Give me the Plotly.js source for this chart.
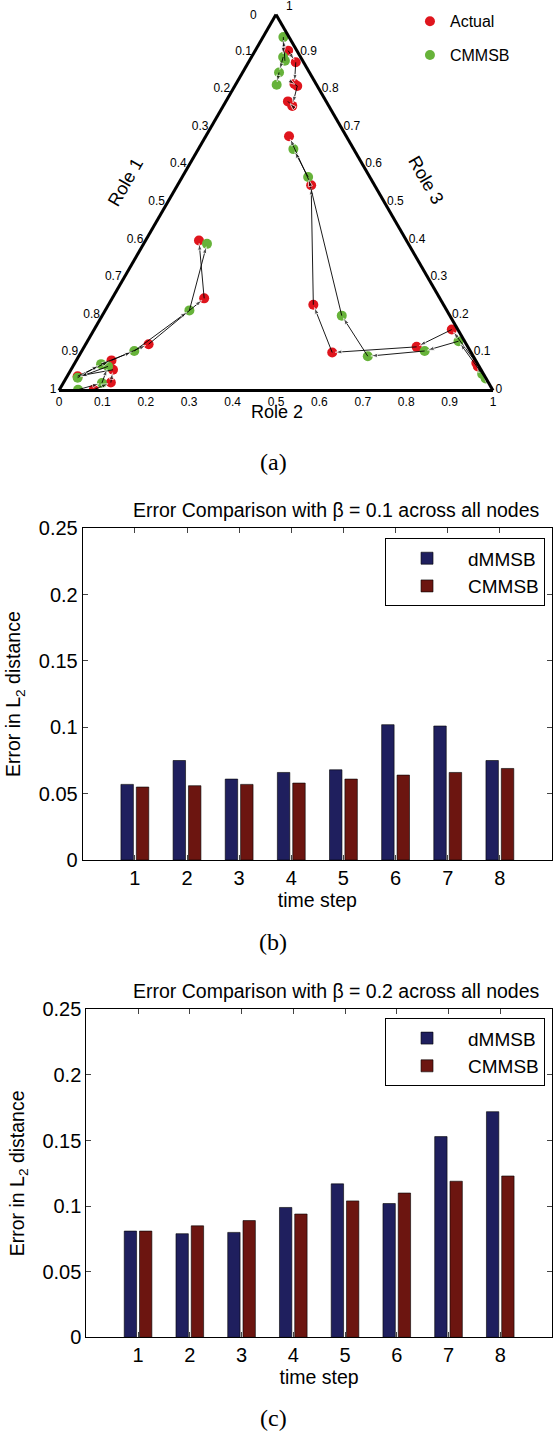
<!DOCTYPE html>
<html>
<head>
<meta charset="utf-8">
<script src="https://cdn.plot.ly/plotly-3.0.1.min.js"></script>
<style>
  body { margin: 0; background: #fff }
  #chart { width: 554px; height: 1436px }
</style>
</head>
<body>
<div id="chart"></div>
<script>
// ternary trajectories, one point per time step, each point is [role1, role2, role3]
var node1Actual = [
  [0.919, 0.079, 0.002], [0.870, 0.109, 0.021], [0.848, 0.097, 0.055], [0.938, 0.024, 0.038],
  [0.839, 0.081, 0.080], [0.732, 0.145, 0.123], [0.543, 0.212, 0.245], [0.478, 0.123, 0.399]
]
var node1Cmmsb = [
  [0.955, 0.043, 0.002], [0.891, 0.089, 0.020], [0.855, 0.081, 0.064], [0.940, 0.026, 0.034],
  [0.868, 0.062, 0.070], [0.774, 0.121, 0.105], [0.593, 0.194, 0.213], [0.464, 0.146, 0.390]
]
var node2Actual = [
  [0.003, 0.933, 0.064], [0.002, 0.925, 0.073], [0.014, 0.824, 0.162], [0.118, 0.766, 0.116],
  [0.320, 0.579, 0.101], [0.300, 0.472, 0.228], [0.146, 0.308, 0.546], [0.132, 0.192, 0.676]
]
var node2Cmmsb = [
  [0.001, 0.967, 0.032], [0.003, 0.953, 0.044], [0.014, 0.855, 0.131], [0.105, 0.790, 0.105],
  [0.243, 0.666, 0.091], [0.249, 0.552, 0.199], [0.142, 0.290, 0.568], [0.139, 0.219, 0.642]
]
var node3Actual = [
  [0.020, 0.076, 0.904], [0.018, 0.109, 0.873], [0.050, 0.135, 0.815],
  [0.046, 0.144, 0.810], [0.084, 0.159, 0.757], [0.088, 0.143, 0.769]
]
var node3Cmmsb = [
  [0.041, 0.082, 0.877], [0.013, 0.047, 0.940], [0.040, 0.073, 0.887],
  [0.070, 0.084, 0.846], [0.092, 0.095, 0.813]
]

var roleTicks = [0, 0.1, 0.2, 0.3, 0.4, 0.5, 0.6, 0.7, 0.8, 0.9, 1]
var roleTickText = ['1', '0.9', '0.8', '0.7', '0.6', '0.5', '0.4', '0.3', '0.2', '0.1', '0']

// error bars, panels (b) and (c)
var timeSteps = [1, 2, 3, 4, 5, 6, 7, 8]
var dmmsbBeta01 = [0.057, 0.075, 0.061, 0.066, 0.068, 0.102, 0.101, 0.075]
var cmmsbBeta01 = [0.055, 0.056, 0.057, 0.058, 0.061, 0.064, 0.066, 0.069]
var dmmsbBeta02 = [0.081, 0.079, 0.080, 0.099, 0.117, 0.102, 0.153, 0.172]
var cmmsbBeta02 = [0.081, 0.085, 0.089, 0.094, 0.104, 0.110, 0.119, 0.123]

var RED = '#df151d'
var GREEN = '#67b33a'
var NAVY = '#1f1f5e'
var MAROON = '#6c1510'
var FONT = 'Liberation Sans, Arial, sans-serif'
var SERIF = 'Liberation Serif, Times New Roman, serif'

function col(points, i) {
  return points.map(function (p) { return p[i] })
}

// plotly: a = top corner (role 3), b = bottom left (role 1), c = bottom right (role 2)
function dots(points, color, name, show) {
  return {
    type: 'scatterternary', mode: 'markers',
    a: col(points, 2), b: col(points, 0), c: col(points, 1),
    name: name, legendgroup: name, showlegend: show, legend: 'legend',
    marker: {size: 10, color: color},
    hoverinfo: 'skip'
  }
}

function path(points) {
  var sizes = points.map(function (p, i) { return i ? 7 : 0 })
  return {
    type: 'scatterternary', mode: 'lines+markers',
    a: col(points, 2), b: col(points, 0), c: col(points, 1),
    showlegend: false,
    line: {color: 'black', width: 0.9},
    marker: {symbol: 'arrow', size: sizes, color: 'black', angleref: 'previous', standoff: 3},
    hoverinfo: 'skip'
  }
}

function bars(y, name, color, xa, ya, legend) {
  return {
    type: 'bar', x: timeSteps, y: y, name: name,
    xaxis: xa, yaxis: ya, legend: legend,
    marker: {color: color, line: {color: 'black', width: 0.6}},
    hoverinfo: 'skip'
  }
}

// the two labels at the apex are drawn as notes, so blank one end of each axis
function ternAxis(blankAt) {
  var text = roleTickText.slice()
  if (blankAt >= 0) text[blankAt] = ''
  return {
    title: {text: ''},
    tickmode: 'array', tickvals: roleTicks, ticktext: text,
    tickfont: {size: 12},
    ticks: '', showgrid: false,
    showline: true, linecolor: 'black', linewidth: 3
  }
}

function barX(domain, anchor) {
  return {
    domain: domain, anchor: anchor, range: [0, 9],
    tickmode: 'array', tickvals: timeSteps,
    ticks: 'inside', ticklen: 5, mirror: 'allticks',
    showline: true, linecolor: 'black', linewidth: 1,
    showgrid: false, zeroline: false,
    tickfont: {size: 20},
    title: {text: 'time step', standoff: 3, font: {size: 19.5}}
  }
}

function barY(domain, anchor) {
  return {
    domain: domain, anchor: anchor, range: [0, 0.25],
    tick0: 0, dtick: 0.05,
    ticks: 'inside', ticklen: 5, mirror: 'allticks',
    showline: true, linecolor: 'black', linewidth: 1,
    showgrid: false, zeroline: false,
    tickfont: {size: 20},
    title: {text: 'Error in L<sub>2</sub> distance', standoff: 12, font: {size: 19.5}}
  }
}

function note(text, x, y, size, extra) {
  var a = {
    text: text, x: x, y: y, xref: 'paper', yref: 'paper',
    xanchor: 'center', yanchor: 'middle', showarrow: false,
    font: {size: size}
  }
  for (var k in extra) a[k] = extra[k]
  return a
}

var data = [
  dots(node1Actual, RED, 'Actual', true),
  dots(node2Actual, RED, 'Actual', false),
  dots(node3Actual, RED, 'Actual', false),
  dots(node1Cmmsb, GREEN, 'CMMSB', true),
  dots(node2Cmmsb, GREEN, 'CMMSB', false),
  dots(node3Cmmsb, GREEN, 'CMMSB', false),
  path(node1Actual), path(node1Cmmsb),
  path(node2Actual), path(node2Cmmsb),
  path(node3Actual), path(node3Cmmsb),
  bars(dmmsbBeta01, 'dMMSB', NAVY, 'x', 'y', 'legend2'),
  bars(cmmsbBeta01, 'CMMSB', MAROON, 'x', 'y', 'legend2'),
  bars(dmmsbBeta02, 'dMMSB', NAVY, 'x2', 'y2', 'legend3'),
  bars(cmmsbBeta02, 'CMMSB', MAROON, 'x2', 'y2', 'legend3')
]

var boxLegend = {
  xanchor: 'right', yanchor: 'top', x: 0.9838,
  bordercolor: 'black', borderwidth: 1, bgcolor: 'white',
  font: {size: 19}, traceorder: 'normal', itemwidth: 72
}

var layout = {
  width: 554, height: 1436,
  margin: {l: 0, r: 0, t: 0, b: 0},
  paper_bgcolor: 'white', plot_bgcolor: 'white',
  font: {family: FONT, size: 19, color: 'black'},
  ternary: {
    domain: {x: [0.10108, 0.89531], y: [0.72810, 0.98987]},
    sum: 1, bgcolor: 'white',
    aaxis: ternAxis(roleTicks.length - 1), baxis: ternAxis(-1), caxis: ternAxis(0)
  },
  legend: {
    x: 0.74, y: 0.997, xanchor: 'left', yanchor: 'top',
    font: {size: 16}, tracegroupgap: 10, bgcolor: 'rgba(0,0,0,0)'
  },
  legend2: Object.assign({y: 0.6251}, boxLegend),
  legend3: Object.assign({y: 0.2909}, boxLegend),
  barmode: 'group', bargap: 0.41, bargroupgap: 0.19,
  xaxis: barX([0.1493, 0.9964], 'y'),
  yaxis: barY([0.4011, 0.6321], 'x'),
  xaxis2: barX([0.1558, 0.9964], 'y2'),
  yaxis2: barY([0.0687, 0.2971], 'x2'),
  annotations: [
    note('0', 0.4567, 0.9895, 12),
    note('1', 0.5217, 0.9958, 12),
    note('Role 1', 0.2264, 0.8735, 18, {textangle: -60}),
    note('Role 3', 0.7686, 0.8747, 18, {textangle: 60}),
    note('Role 2', 0.5007, 0.7133, 18),
    note('(a)', 0.4928, 0.6785, 24, {font: {size: 24, family: SERIF}}),
    note('Error Comparison with β = 0.1 across all nodes', 0.6065, 0.6448, 19.5),
    note('(b)', 0.4928, 0.3442, 24, {font: {size: 24, family: SERIF}}),
    note('Error Comparison with β = 0.2 across all nodes', 0.6065, 0.3101, 19.5),
    note('(c)', 0.4928, 0.01253, 24, {font: {size: 24, family: SERIF}})
  ]
}

Plotly.newPlot('chart', data, layout, {displayModeBar: false, staticPlot: true})
</script>
</body>
</html>
